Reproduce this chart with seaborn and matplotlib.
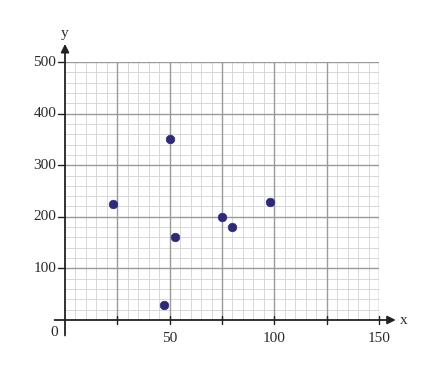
import matplotlib
matplotlib.use("Agg")
import matplotlib.pyplot as plt
import seaborn as sns
import pandas as pd
import numpy as np

x_vals = [23, 47.5, 50, 52.5, 75, 80, 98]
y_vals = [225, 30, 350, 160, 200, 180, 228]
x_tick_labels = ["50", "100", "150"]
y_tick_labels = ["100", "200", "300", "400", "500"]

sns.set_style("white")
plt.rcParams['font.family'] = ['Liberation Serif', 'DejaVu Serif']

df = pd.DataFrame({"x": x_vals, "y": y_vals})

fig = plt.figure(figsize=(4.42, 3.82), dpi=100)
ax = fig.add_axes([65/442, 1-320/382, (379-65)/442, (320-62)/382])

ax.set_xlim(0, 150)
ax.set_ylim(0, 500)

# grid
for xv in np.arange(5, 151, 5):
    major = (xv % 25 == 0)
    ax.axvline(xv, color="#9a9a9a" if major else "#d8d8d8", lw=1.0 if major else 0.7, zorder=1 if major else 0)
for yv in np.arange(20, 501, 20):
    major = (yv % 100 == 0)
    ax.axhline(yv, color="#9a9a9a" if major else "#d8d8d8", lw=1.0 if major else 0.7, zorder=1 if major else 0)

for s in ax.spines.values():
    s.set_visible(False)
ax.set_xticks([])
ax.set_yticks([])

sns.scatterplot(data=df, x="x", y="y", ax=ax, color="#2e2a7a", s=38, edgecolor="#2e2a7a", linewidth=0.5, zorder=5, clip_on=False)
ax.set_xlabel("")
ax.set_ylabel("")

# axes with arrows
ax.annotate("", xy=(158, 0), xytext=(-5, 0), xycoords="data",
            arrowprops=dict(arrowstyle="-|>", color="#222222", lw=1.3, mutation_scale=12, shrinkA=0, shrinkB=0),
            annotation_clip=False, zorder=6)
ax.annotate("", xy=(0, 535), xytext=(0, -30), xycoords="data",
            arrowprops=dict(arrowstyle="-|>", color="#222222", lw=1.3, mutation_scale=12, shrinkA=0, shrinkB=0),
            annotation_clip=False, zorder=6)

# x ticks
for xv in [25, 50, 75, 100, 125, 150]:
    ax.plot([xv, xv], [-8, 8], color="#222222", lw=1.0, clip_on=False, zorder=6)
for xv, lab in zip([50, 100, 150], x_tick_labels):
    ax.text(xv, -23, lab, ha="center", va="top", fontsize=11, color="#2a2a2a", clip_on=False)
# y ticks
for yv, lab in zip([100, 200, 300, 400, 500], y_tick_labels):
    ax.plot([-3.2, 0], [yv, yv], color="#222222", lw=1.0, clip_on=False, zorder=6)
    ax.text(-4.2, yv, lab, ha="right", va="center", fontsize=11, color="#2a2a2a", clip_on=False)

ax.text(-3.5, -24, "0", ha="right", va="center", fontsize=11, color="#2a2a2a", clip_on=False)
ax.text(160, 0, "x", ha="left", va="center", fontsize=11, color="#2a2a2a", clip_on=False)
ax.text(0, 555, "y", ha="center", va="center", fontsize=11, color="#2a2a2a", clip_on=False)

fig.savefig("out.png", dpi=100)
